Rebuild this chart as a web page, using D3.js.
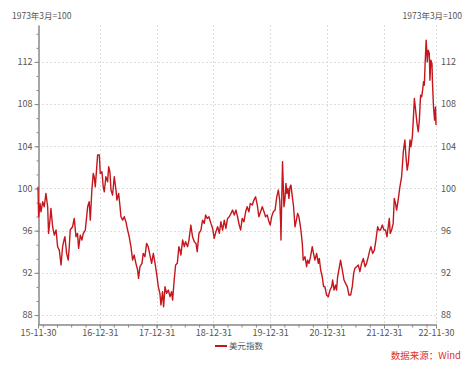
<!DOCTYPE html>
<html><head><meta charset="utf-8">
<script src="https://cdn.jsdelivr.net/npm/d3@7"></script>
<style>
body{margin:0;background:#fff}
svg{display:block}
text{font-family:"Noto Sans CJK SC","Noto Sans",sans-serif}
</style>
</head><body>
<svg id="chart" width="474" height="365"></svg>
<script>
const dates = ["2015-11-30","2015-12-04","2015-12-13","2015-12-19","2015-12-30","2016-01-09","2016-01-20","2016-01-31","2016-02-06","2016-02-15","2016-02-21","2016-03-03","2016-03-14","2016-03-25","2016-04-04","2016-04-15","2016-04-26","2016-05-06","2016-05-15","2016-05-21","2016-06-01","2016-06-11","2016-06-18","2016-06-24","2016-07-09","2016-07-20","2016-07-31","2016-08-10","2016-08-17","2016-08-28","2016-09-07","2016-09-16","2016-09-29","2016-10-14","2016-10-24","2016-10-31","2016-11-10","2016-11-19","2016-11-25","2016-12-02","2016-12-10","2016-12-17","2016-12-28","2017-01-03","2017-01-14","2017-01-22","2017-01-29","2017-02-08","2017-02-19","2017-02-26","2017-03-06","2017-03-13","2017-03-23","2017-04-03","2017-04-14","2017-04-20","2017-05-01","2017-05-09","2017-05-16","2017-05-27","2017-06-06","2017-06-17","2017-06-28","2017-07-08","2017-07-19","2017-07-30","2017-08-09","2017-08-20","2017-08-31","2017-09-06","2017-09-15","2017-09-28","2017-10-06","2017-10-17","2017-10-28","2017-11-07","2017-11-18","2017-11-29","2017-12-10","2017-12-21","2017-12-31","2018-01-11","2018-01-21","2018-01-28","2018-02-07","2018-02-14","2018-02-23","2018-03-05","2018-03-16","2018-03-27","2018-04-06","2018-04-13","2018-04-23","2018-05-02","2018-05-13","2018-05-23","2018-05-30","2018-06-05","2018-06-16","2018-06-27","2018-07-05","2018-07-18","2018-07-27","2018-08-08","2018-08-19","2018-08-30","2018-09-10","2018-09-18","2018-09-29","2018-10-12","2018-10-22","2018-11-02","2018-11-11","2018-11-21","2018-12-02","2018-12-15","2018-12-26","2019-01-05","2019-01-16","2019-01-27","2019-02-07","2019-02-17","2019-02-28","2019-03-11","2019-03-21","2019-04-01","2019-04-12","2019-04-23","2019-05-03","2019-05-14","2019-05-25","2019-06-04","2019-06-15","2019-06-24","2019-07-04","2019-07-15","2019-07-26","2019-08-05","2019-08-16","2019-08-25","2019-09-07","2019-09-17","2019-09-28","2019-10-09","2019-10-19","2019-10-30","2019-11-10","2019-11-21","2019-12-01","2019-12-12","2019-12-23","2019-12-31","2020-01-09","2020-01-20","2020-01-31","2020-02-11","2020-02-21","2020-03-01","2020-03-07","2020-03-09","2020-03-13","2020-03-19","2020-03-28","2020-04-03","2020-04-10","2020-04-16","2020-04-23","2020-04-29","2020-05-06","2020-05-12","2020-05-21","2020-05-29","2020-06-07","2020-06-16","2020-06-24","2020-07-02","2020-07-09","2020-07-15","2020-07-24","2020-07-30","2020-08-10","2020-08-21","2020-08-27","2020-09-05","2020-09-15","2020-09-26","2020-10-04","2020-10-13","2020-10-24","2020-11-04","2020-11-10","2020-11-19","2020-11-29","2020-12-08","2020-12-16","2020-12-27","2021-01-07","2021-01-18","2021-01-29","2021-02-04","2021-02-13","2021-02-23","2021-03-01","2021-03-08","2021-03-16","2021-03-27","2021-04-07","2021-04-18","2021-04-28","2021-05-09","2021-05-20","2021-05-31","2021-06-10","2021-06-19","2021-06-27","2021-07-08","2021-07-19","2021-07-29","2021-08-09","2021-08-20","2021-08-31","2021-09-10","2021-09-21","2021-10-01","2021-10-08","2021-10-19","2021-10-30","2021-11-09","2021-11-20","2021-11-28","2021-12-09","2021-12-20","2021-12-31","2022-01-10","2022-01-19","2022-01-27","2022-02-03","2022-02-09","2022-02-18","2022-02-28","2022-03-07","2022-03-15","2022-03-22","2022-04-01","2022-04-12","2022-04-23","2022-05-04","2022-05-14","2022-05-21","2022-05-29","2022-06-05","2022-06-16","2022-06-22","2022-07-01","2022-07-07","2022-07-14","2022-07-22","2022-07-31","2022-08-08","2022-08-15","2022-08-23","2022-08-30","2022-09-05","2022-09-11","2022-09-16","2022-09-22","2022-09-28","2022-10-05","2022-10-11","2022-10-18","2022-10-22","2022-10-28","2022-11-04","2022-11-08","2022-11-14","2022-11-21","2022-11-27","2022-11-30"];
const values = [100.16,97.32,98.58,97.79,98.74,98.27,99.53,98.27,95.74,97.00,98.11,96.37,95.58,96.06,94.48,94.16,92.74,94.48,95.11,95.42,93.84,93.21,94.48,96.06,96.37,97.16,95.42,95.74,94.32,95.58,95.11,95.74,96.06,98.27,98.74,97.00,99.85,101.43,101.11,100.16,101.74,103.17,103.17,101.43,101.59,100.16,99.69,101.11,100.64,102.06,101.59,99.85,99.37,101.11,99.85,98.90,99.53,98.43,97.32,97.00,97.32,96.84,96.06,95.42,94.48,93.21,93.69,92.90,92.27,91.48,92.58,92.90,93.84,93.53,94.79,94.48,93.69,92.90,93.84,92.90,91.95,90.69,90.06,88.95,90.21,88.79,90.69,90.06,90.37,89.74,90.21,89.42,91.32,92.74,92.90,94.48,94.16,93.69,95.11,94.48,94.95,94.48,95.11,96.53,95.42,94.95,94.79,94.00,95.74,96.06,97.00,96.69,97.48,97.16,97.32,96.69,96.21,95.27,95.90,96.37,95.74,96.84,96.06,97.00,96.21,97.16,97.32,97.64,97.95,97.48,97.95,97.32,96.53,96.06,97.16,96.84,97.79,98.27,97.79,98.58,98.43,98.90,99.21,98.43,97.32,97.79,98.27,97.79,97.32,97.48,96.84,96.53,97.32,97.79,97.95,99.21,99.85,98.90,96.69,95.11,98.27,102.53,98.27,98.90,100.48,99.53,100.00,99.06,100.16,100.32,99.21,98.27,96.37,97.00,97.64,97.32,96.69,96.06,94.79,93.21,93.53,92.58,93.21,92.90,93.53,94.48,93.84,93.21,93.84,92.90,93.37,92.27,91.63,90.69,90.69,89.90,89.74,90.37,90.69,91.32,90.37,90.84,90.37,91.63,92.27,93.21,92.27,91.32,91.00,90.69,89.90,89.90,90.69,91.95,92.43,92.58,92.74,92.11,92.90,93.37,92.58,92.90,93.53,94.16,94.48,93.84,94.16,95.11,96.37,96.06,96.06,96.53,96.06,96.06,95.42,96.37,97.16,95.74,96.06,96.69,99.06,98.58,97.95,98.90,100.16,101.11,103.48,104.59,103.01,101.74,102.38,104.59,103.96,104.90,106.48,108.53,107.43,106.16,105.38,106.48,108.85,108.69,109.33,110.12,109.80,112.17,114.07,112.01,113.12,112.80,110.27,112.17,111.86,109.80,107.74,106.48,107.74,106.01];
const yTicks = [88, 92, 96, 100, 104, 108, 112];
const xTickDates = ["2015-11-30","2016-12-31","2017-12-31","2018-12-31","2019-12-31","2020-12-31","2021-12-31","2022-11-30"];
const xTickLabels = ["15-11-30","16-12-31","17-12-31","18-12-31","19-12-31","20-12-31","21-12-31","22-11-30"];
const seriesName = "美元指数";
const unitLabel = "1973年3月=100";
const sourceLabel = "数据来源：Wind";

const parse = d3.timeParse("%Y-%m-%d");
const data = dates.map((d, i) => ({date: parse(d), v: values[i]}));
const tickDates = xTickDates.map(parse);

const L = 38, R = 436, T = 25, B = 324;
const svg = d3.select("#chart");
const x = d3.scaleTime().domain([tickDates[0], tickDates[tickDates.length - 1]]).range([L, R]);
const y = d3.scaleLinear().domain([87.15, 115.5]).range([B, T]);

const lineColor = "#c4161c";
const gridColor = "#dcdcdc";
const textColor = "#555";

// grid
const grid = svg.append("g");
grid.selectAll("line.h").data(yTicks).join("line")
  .attr("x1", L).attr("x2", R).attr("y1", d => Math.round(y(d)) + 0.5).attr("y2", d => Math.round(y(d)) + 0.5)
  .attr("stroke", gridColor).attr("stroke-dasharray", "2,2");
grid.selectAll("line.v").data(tickDates.slice(1)).join("line")
  .attr("x1", d => Math.round(x(d)) + 0.5).attr("x2", d => Math.round(x(d)) + 0.5).attr("y1", T).attr("y2", B)
  .attr("stroke", gridColor).attr("stroke-dasharray", "2,2");

// minor tick values
const yMinor = d3.range(88, 115.5, 4 / 3);
const xMinor = d3.timeMonth.range(new Date(2016, 0, 1), new Date(2022, 11, 1), 3).map(d => d3.timeDay.offset(d, -1));

function styleAxis(g) {
  g.selectAll("text").attr("fill", textColor).attr("font-size", "9px");
  g.selectAll("line").attr("stroke", "#888");
  g.select(".domain").attr("stroke", "#888");
}

// left axis
svg.append("g").attr("transform", `translate(${L + 0.5},0)`)
  .call(d3.axisLeft(y).tickValues(yMinor).tickSize(2).tickFormat("").tickSizeOuter(0))
  .call(g => { g.select(".domain").attr("stroke", "#888"); g.selectAll("line").attr("stroke", "#888"); });
svg.append("g").attr("transform", `translate(${L + 0.5},0)`)
  .call(d3.axisLeft(y).tickValues(yTicks).tickSize(4).tickPadding(2).tickSizeOuter(0))
  .call(styleAxis);

// right labels
svg.append("g").attr("transform", `translate(${R},0)`)
  .call(d3.axisRight(y).tickValues(yTicks).tickSize(0).tickPadding(5))
  .call(styleAxis)
  .call(g => g.select(".domain").remove());

// bottom axis
svg.append("g").attr("transform", `translate(0,${B + 0.5})`)
  .call(d3.axisBottom(x).tickValues(xMinor).tickSize(3).tickFormat("").tickSizeOuter(0))
  .call(g => { g.select(".domain").attr("stroke", "#888"); g.selectAll("line").attr("stroke", "#888"); });
svg.append("g").attr("transform", `translate(0,${B + 0.5})`)
  .call(d3.axisBottom(x).tickValues(tickDates).tickFormat((d, i) => xTickLabels[i]).tickSize(4).tickPadding(1).tickSizeOuter(0))
  .call(styleAxis);

// series line
svg.append("path").datum(data)
  .attr("fill", "none").attr("stroke", lineColor).attr("stroke-width", 1.4).attr("stroke-linejoin", "round")
  .attr("d", d3.line().x(d => x(d.date)).y(d => y(d.v)));

// unit labels
svg.append("text").attr("x", 12).attr("y", 19).attr("font-size", "8.5px").attr("fill", textColor).text(unitLabel);
svg.append("text").attr("x", 462).attr("y", 19).attr("text-anchor", "end").attr("font-size", "8.5px").attr("fill", textColor).text(unitLabel);

// legend
const lg = svg.append("g");
lg.append("line").attr("x1", 215).attr("x2", 227).attr("y1", 346).attr("y2", 346).attr("stroke", lineColor).attr("stroke-width", 2);
lg.append("text").attr("x", 229).attr("y", 349).attr("font-size", "8.5px").attr("fill", textColor).text(seriesName);

// source
svg.append("text").attr("x", 461).attr("y", 359).attr("text-anchor", "end").attr("font-size", "9.5px").attr("fill", "#e0302a").text(sourceLabel);
</script>
</body></html>
